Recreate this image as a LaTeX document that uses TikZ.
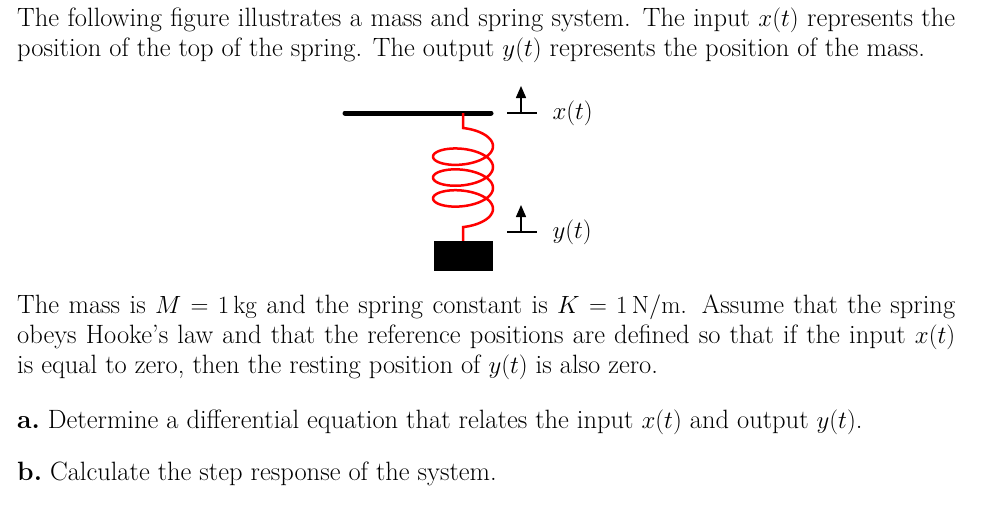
\documentclass[tikz,border=0pt]{standalone}
\usetikzlibrary{arrows.meta}
\begin{document}
\begin{tikzpicture}[x=1pt,y=-1pt,
  para/.style={anchor=north west,inner sep=0,text width=938pt,align=justify,font=\fontsize{26.5}{30}\selectfont},
  tick/.style={line width=1.5pt},
  up/.style={line width=1.5pt,-{Triangle[length=12pt,width=10pt]}}]
\useasboundingbox (0,0) rectangle (995,520);
\node[para] (p1) at (17,8) {The following figure illustrates a mass and spring system. The input $x(t)$ represents the\linebreak position of the top of the spring. The output $y(t)$ represents the position of the mass.};
\node[para] (p2) at (17,295) {The mass is $M=1\,\mathrm{kg}$ and the spring constant is $K=1\,\mathrm{N/m}$. Assume that the spring\linebreak obeys Hooke's law and that the reference positions are defined so that if the input $x(t)$\linebreak is equal to zero, then the resting position of $y(t)$ is also zero.};
\node[para] (pa) at (17,410) {\textbf{a.}\ Determine a differential equation that relates the input $x(t)$ and output $y(t)$.};
\node[para] (pb) at (17,462) {\textbf{b.}\ Calculate the step response of the system.};
% bar
\draw[line width=5pt,line cap=round] (345,113) coordinate (barL) -- (491,113) coordinate (barR);
% spring
\coordinate (st) at (463,113);
\draw[red,line width=2.5pt] (st) -- (463,128) -- plot[domain=0:1260,samples=200,smooth] ({463+30*sin(\x)},{141+0.058*\x-13*cos(\x)}) -- (463,243) coordinate (sb);
% mass
\node[fill=black,minimum width=59pt,minimum height=30pt,inner sep=0,anchor=north] (m) at (463,241) {};
% arrows
\draw[tick] (507,113) -- (537,113);
\draw[up] (521,113) -- (521,86);
\node[anchor=west,font=\fontsize{24}{28}\selectfont] (xl) at (549,113) {$x(t)$};
\draw[tick] (507,232) -- (537,232);
\draw[up] (521,232) -- (521,205);
\node[anchor=west,font=\fontsize{24}{28}\selectfont] (yl) at (549,232) {$y(t)$};
\end{tikzpicture}
\end{document}
